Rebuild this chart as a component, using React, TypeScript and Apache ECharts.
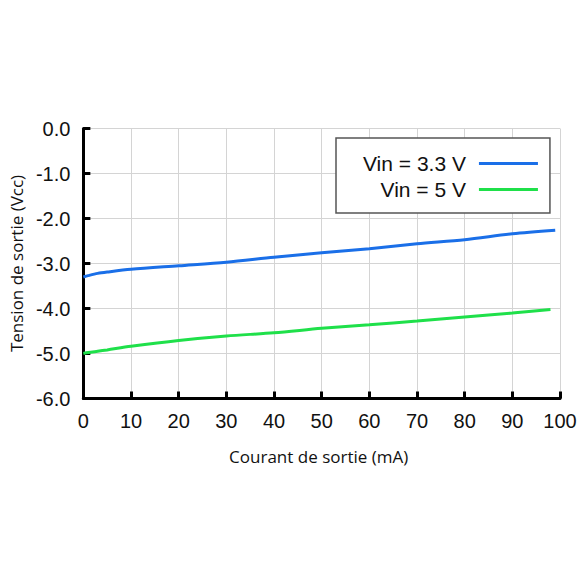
import React, { useEffect, useRef } from "react";
import * as echarts from "echarts";

const currentBlue = [0, 1, 3, 5, 10, 20, 30, 40, 50, 60, 70, 80, 90, 99];
const vin33 = [-3.3, -3.27, -3.22, -3.19, -3.13, -3.05, -2.97, -2.86, -2.76, -2.67, -2.56, -2.47, -2.34, -2.26];
const currentGreen = [0, 1, 3, 5, 10, 20, 30, 40, 50, 60, 70, 80, 90, 98];
const vin5 = [-5.0, -4.98, -4.95, -4.92, -4.84, -4.71, -4.61, -4.54, -4.44, -4.36, -4.28, -4.19, -4.1, -4.02];
const seriesNames = ["Vin = 3.3 V", "Vin = 5 V"];
const seriesColors = ["#1a6fe8", "#1fe04a"];

export default function App() {
  const ref = useRef<HTMLDivElement>(null);
  useEffect(() => {
    if (!ref.current) return;
    const chart = echarts.init(ref.current, null, { renderer: "svg" });
    const tickFont = { fontFamily: "Liberation Sans", fontSize: 20, color: "#111" };
    chart.setOption({
      animation: false,
      backgroundColor: "#fff",
      grid: { left: 80, top: 128.5, right: 25, bottom: 186.5, containLabel: false },
      legend: {
        orient: "vertical",
        align: "right",
        left: 336,
        top: 138,
        padding: [15, 12, 13, 27],
        itemGap: 5,
        itemWidth: 59,
        itemHeight: 3,
        icon: "rect",
        backgroundColor: "#fff",
        borderColor: "#555",
        borderWidth: 1.5,
        textStyle: {
          fontFamily: "Liberation Sans",
          fontSize: 21,
          color: "#111",
          width: 112,
          align: "right",
          padding: [0, 8, 0, 0],
        },
        data: seriesNames,
      },
      xAxis: {
        type: "value",
        min: 0,
        max: 100,
        interval: 10,
        name: "Courant de sortie (mA)",
        nameLocation: "middle",
        nameGap: 49,
        nameTextStyle: { fontFamily: "Open Sans", fontSize: 17, color: "#111", padding: [0, 6, 0, 0] },
        axisLine: { show: true, onZero: false, lineStyle: { color: "#000", width: 3 } },
        axisTick: { show: true, inside: true, length: 7, lineStyle: { color: "#000", width: 3 } },
        axisLabel: { ...tickFont, margin: 12 },
        splitLine: { show: true, lineStyle: { color: "#d4d4d4", width: 1 } },
      },
      yAxis: {
        type: "value",
        min: -6,
        max: 0,
        interval: 1,
        name: "Tension de sortie (Vcc)",
        nameLocation: "middle",
        nameGap: 54,
        nameTextStyle: { fontFamily: "Open Sans", fontSize: 17, color: "#111" },
        axisLine: { show: true, onZero: false, lineStyle: { color: "#000", width: 3 } },
        axisTick: { show: true, inside: true, length: 7, lineStyle: { color: "#000", width: 3 } },
        axisLabel: { ...tickFont, margin: 13, formatter: (v: number) => v.toFixed(1) },
        splitLine: { show: true, lineStyle: { color: "#d4d4d4", width: 1 } },
      },
      series: [
        {
          name: seriesNames[0],
          type: "line",
          showSymbol: false,
          smooth: 0.3,
          color: seriesColors[0],
          lineStyle: { width: 3, color: seriesColors[0] },
          data: currentBlue.map((x, i) => [x, vin33[i]]),
        },
        {
          name: seriesNames[1],
          type: "line",
          showSymbol: false,
          smooth: 0.3,
          color: seriesColors[1],
          lineStyle: { width: 3, color: seriesColors[1] },
          data: currentGreen.map((x, i) => [x, vin5[i]]),
        },
      ],
    });
    return () => chart.dispose();
  }, []);
  return (
    <div
      ref={ref}
      style={{ position: "fixed", left: 0, top: 0, width: 585, height: 585, background: "#fff" }}
    />
  );
}
